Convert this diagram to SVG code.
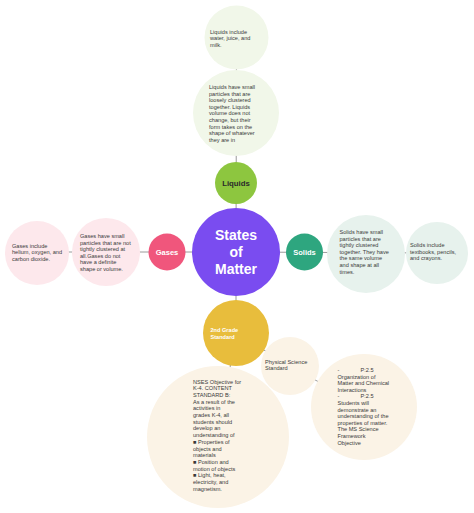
<svg xmlns="http://www.w3.org/2000/svg" width="474" height="513" viewBox="0 0 474 513">
<style>
.t{font-family:"Liberation Sans",Arial,sans-serif;font-size:5.6px;fill:#3a3a3a}
.w{font-family:"Liberation Sans",Arial,sans-serif;font-weight:bold;fill:#ffffff}
.lg{fill:#f1f7e9}
.pk{fill:#fde8ec}
.mt{fill:#e7f2ed}
.cr{fill:#fbf3e6}
.cn line{stroke:#9a9a9a;stroke-width:1}
</style>
<rect width="474" height="513" fill="#ffffff"/>
<g id="connectors" class="cn">
<line x1="236.5" y1="37.5" x2="236" y2="252"/>
<line x1="37" y1="252" x2="236" y2="252"/>
<line x1="236" y1="252" x2="437" y2="253"/>
<line x1="236" y1="252" x2="236" y2="333"/>
<line x1="236" y1="333" x2="290" y2="366"/>
<line x1="236" y1="333" x2="218" y2="437"/>
<line x1="290" y1="366" x2="364" y2="407"/>
</g>
<g id="liquids-include"><circle class="lg" cx="236.5" cy="37.5" r="32"/>
<text class="t"><tspan x="210" y="33.5">Liquids include</tspan><tspan x="210" y="40">water, juice, and</tspan><tspan x="210" y="46.5">milk.</tspan></text></g>
<g id="liquids-info"><circle class="lg" cx="236" cy="113" r="43"/>
<text class="t"><tspan x="209" y="89">Liquids have small</tspan><tspan x="209" y="95.6">particles that are</tspan><tspan x="209" y="102.2">loosely clustered</tspan><tspan x="209" y="108.8">together. Liquids</tspan><tspan x="209" y="115.4">volume does not</tspan><tspan x="209" y="122">change, but their</tspan><tspan x="209" y="128.6">form takes on the</tspan><tspan x="209" y="135.2">shape of whatever</tspan><tspan x="209" y="141.8">they are in</tspan></text></g>
<g id="liquids"><circle cx="236" cy="183" r="21" fill="#8dc63f"/>
<text x="236" y="185.8" text-anchor="middle" font-family="Liberation Sans,Arial,sans-serif" font-weight="bold" font-size="7.8" fill="#2a2a2a">Liquids</text></g>
<g id="states-of-matter"><circle cx="236" cy="252" r="44" fill="#7a4cf0"/>
<text class="w" font-size="14" text-anchor="middle"><tspan x="236" y="240">States</tspan><tspan x="236" y="257">of</tspan><tspan x="236" y="274">Matter</tspan></text></g>
<g id="gases"><circle cx="167" cy="252" r="18.5" fill="#f0567c"/>
<text class="w" font-size="7.5" x="167" y="254.7" text-anchor="middle">Gases</text></g>
<g id="gases-info"><circle class="pk" cx="106" cy="252" r="34"/>
<text class="t"><tspan x="80" y="238">Gases have small</tspan><tspan x="80" y="244.6">particles that are not</tspan><tspan x="80" y="251.2">tightly clustered at</tspan><tspan x="80" y="257.8">all.Gases do not</tspan><tspan x="80" y="264.4">have a definite</tspan><tspan x="80" y="271">shape or volume.</tspan></text></g>
<g id="gases-include"><circle class="pk" cx="37" cy="253" r="32"/>
<text class="t"><tspan x="12" y="247.5">Gases include</tspan><tspan x="12" y="254">helium, oxygen, and</tspan><tspan x="12" y="260.5">carbon dioxide.</tspan></text></g>
<g id="solids"><circle cx="304.5" cy="252" r="18.5" fill="#2ea67f"/>
<text class="w" font-size="7.5" x="304.5" y="254.7" text-anchor="middle">Solids</text></g>
<g id="solids-info"><circle class="mt" cx="366" cy="254" r="39"/>
<text class="t"><tspan x="339.5" y="234">Solids have small</tspan><tspan x="339.5" y="240.6">particles that are</tspan><tspan x="339.5" y="247.2">tightly clustered</tspan><tspan x="339.5" y="253.8">together. They have</tspan><tspan x="339.5" y="260.4">the same volume</tspan><tspan x="339.5" y="267">and shape at all</tspan><tspan x="339.5" y="273.6">times.</tspan></text></g>
<g id="solids-include"><circle class="mt" cx="437" cy="253" r="31"/>
<text class="t"><tspan x="410" y="247">Solids include</tspan><tspan x="410" y="253.5">textbooks, pencils,</tspan><tspan x="410" y="260">and crayons.</tspan></text></g>
<g id="nses"><circle class="cr" cx="218" cy="437" r="71"/>
<text class="t"><tspan x="193" y="383.5">NSES Objective for</tspan><tspan x="193" y="390.2">K-4. CONTENT</tspan><tspan x="193" y="396.9">STANDARD B:</tspan><tspan x="193" y="403.6">As a result of the</tspan><tspan x="193" y="410.3">activities in</tspan><tspan x="193" y="417">grades K-4, all</tspan><tspan x="193" y="423.7">students should</tspan><tspan x="193" y="430.4">develop an</tspan><tspan x="193" y="437.1">understanding of</tspan><tspan x="193" y="443.8">■ Properties of</tspan><tspan x="193" y="450.5">objects and</tspan><tspan x="193" y="457.2">materials</tspan><tspan x="193" y="463.9">■ Position and</tspan><tspan x="193" y="470.6">motion of objects</tspan><tspan x="193" y="477.3">■ Light, heat,</tspan><tspan x="193" y="484">electricity, and</tspan><tspan x="193" y="490.7">magnetism.</tspan></text></g>
<g id="physical-science"><circle class="cr" cx="290" cy="366" r="29"/>
<text class="t"><tspan x="265" y="363.5">Physical Science</tspan><tspan x="265" y="370">Standard</tspan></text></g>
<g id="p25"><circle class="cr" cx="364" cy="407" r="53"/>
<text class="t"><tspan x="337.5" y="372">-</tspan><tspan x="360.5" y="372">P:2.5</tspan><tspan x="337.5" y="378.6">Organization of</tspan><tspan x="337.5" y="385.2">Matter and Chemical</tspan><tspan x="337.5" y="391.8">Interactions</tspan><tspan x="337.5" y="398.4">-</tspan><tspan x="360.5" y="398.4">P:2.5</tspan><tspan x="337.5" y="405">Students will</tspan><tspan x="337.5" y="411.6">demonstrate an</tspan><tspan x="337.5" y="418.2">understanding of the</tspan><tspan x="337.5" y="424.8">properties of matter.</tspan><tspan x="337.5" y="431.4">The MS Science</tspan><tspan x="337.5" y="438">Framework</tspan><tspan x="337.5" y="444.6">Objective</tspan></text></g>
<g id="second-grade"><circle cx="236" cy="333" r="33" fill="#e8bd3c"/>
<text class="w" font-size="5.6"><tspan x="210.5" y="332">2nd Grade</tspan><tspan x="210.5" y="339">Standard</tspan></text></g>
</svg>
